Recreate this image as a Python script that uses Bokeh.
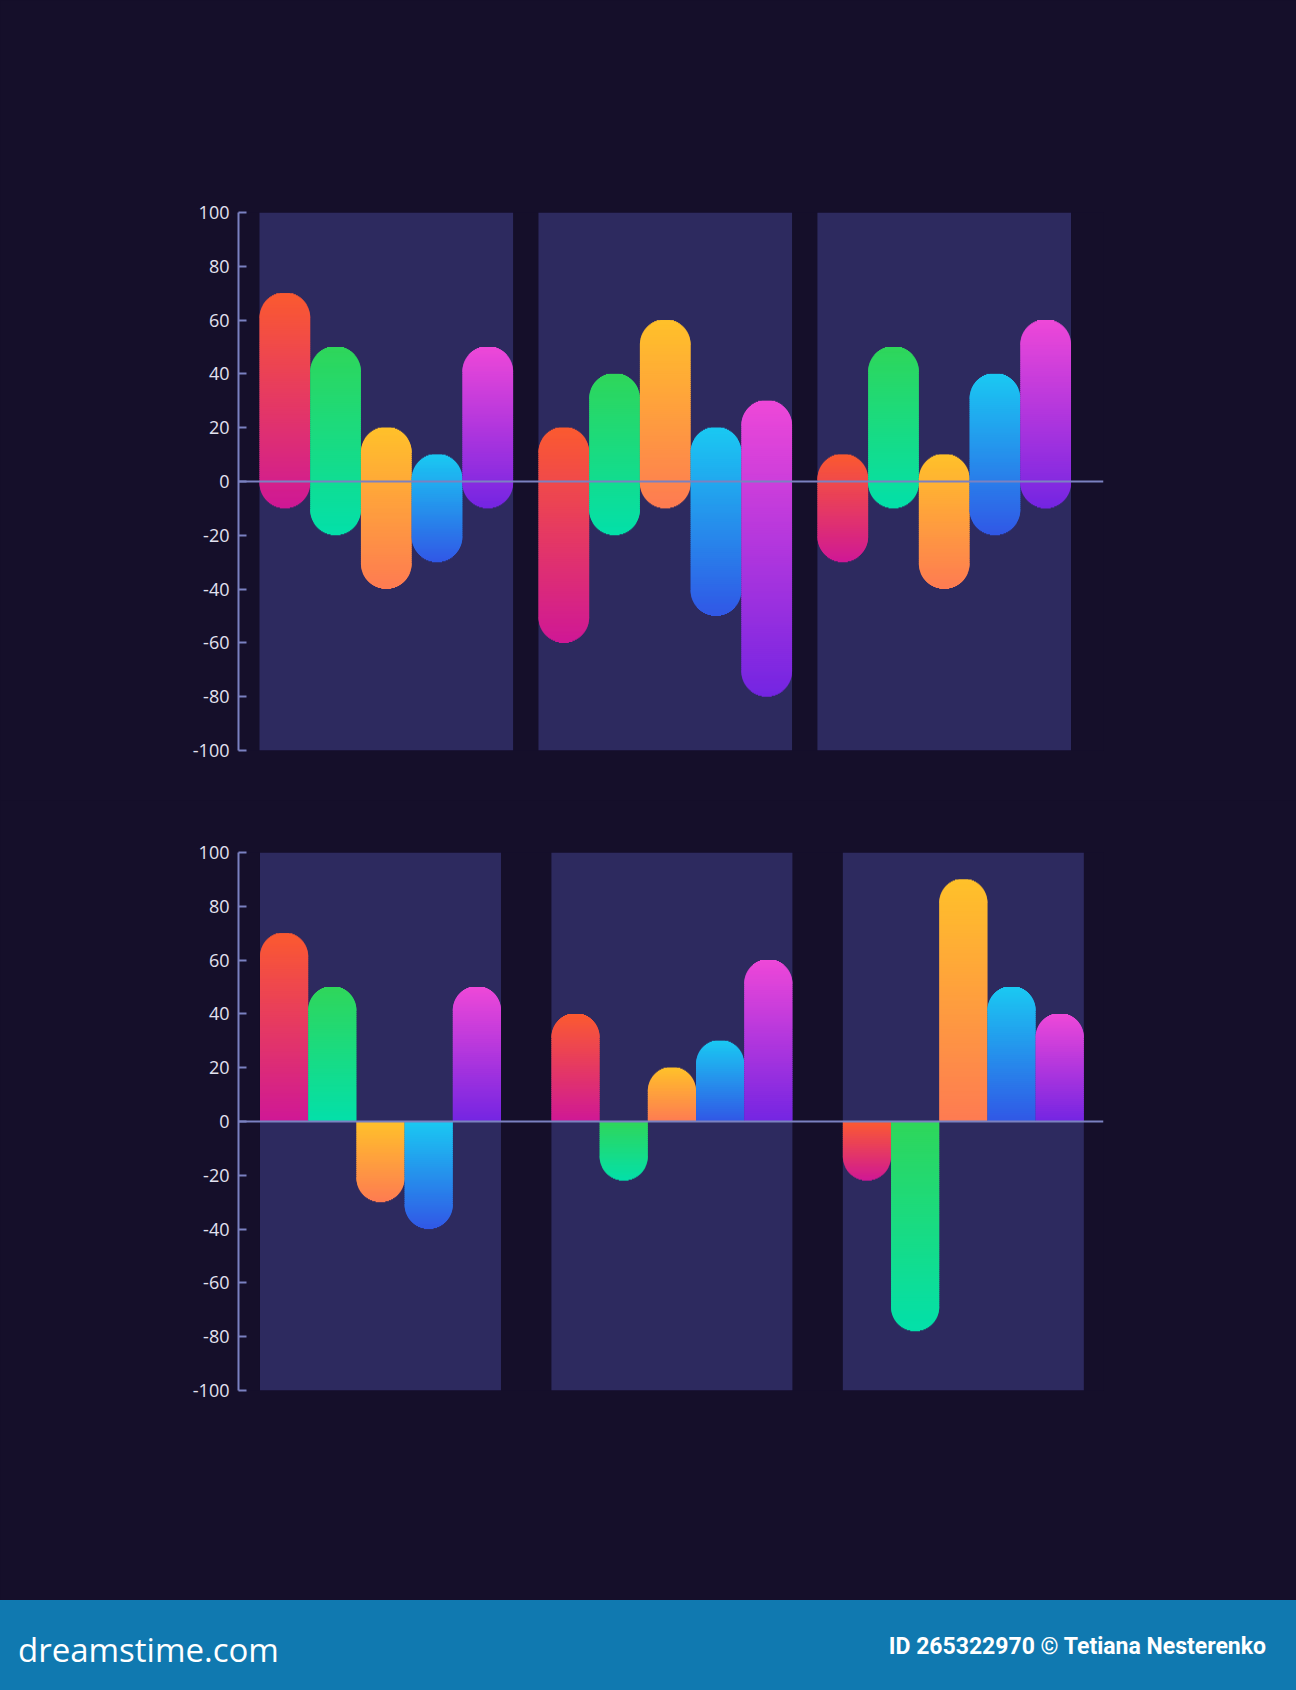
import numpy as np
from bokeh.plotting import figure
from bokeh.layouts import column
from bokeh.models import Range1d, LinearAxis, FixedTicker, Span, ColumnDataSource, Div
from bokeh.embed import file_html
from bokeh.resources import INLINE

# ---------------- data ----------------
panels = ["Group 1", "Group 2", "Group 3"]
series = ["Series 1", "Series 2", "Series 3", "Series 4", "Series 5"]

# top chart: floating capsules (low .. high) per panel, per series
top_high = [[70, 50, 20, 10, 50],
            [20, 40, 60, 20, 30],
            [10, 50, 10, 40, 60]]
top_low = [[-10, -20, -40, -30, -10],
           [-60, -20, -10, -50, -80],
           [-30, -10, -40, -20, -10]]

# bottom chart: bars from zero with a rounded end
bottom_values = [[70, 50, -30, -40, 50],
                 [40, -22, 20, 30, 60],
                 [-22, -78, 90, 50, 40]]

y_ticks = [-100, -80, -60, -40, -20, 0, 20, 40, 60, 80, 100]
y_tick_labels = ["-100", "-80", "-60", "-40", "-20", "0", "20", "40", "60", "80", "100"]

# gradient (top colour, bottom colour) for each series
grad_top = ["#fb5a30", "#2fd65a", "#ffc12a", "#1ac9f2", "#ee48d8"]
grad_bottom = ["#cf1896", "#03e0aa", "#fe7b52", "#3157e6", "#7425e2"]

# ---------------- style ----------------
BG = "#150f2a"
PANEL = "#2d2a5f"
AXIS = "#7b81c1"
LABEL = "#e2e2f0"
BANNER = "#1079b0"
W = 1296
FW, FH = 865, 538
LEFT = 238


def hex2rgb(h):
    h = h.lstrip("#")
    return np.array([int(h[i:i + 2], 16) for i in (0, 2, 4)], dtype=float)


def mix(c1, c2, t):
    a, b = hex2rgb(c1), hex2rgb(c2)
    c = a + (b - a) * t
    return "#%02x%02x%02x" % tuple(int(round(v)) for v in c)


def bar_strips(out, xc, lo, hi, ctop, cbot, round_top, round_bot, ppx, ppy):
    """Approximate a gradient bar with rounded ends by thin horizontal quads."""
    r_px = 0.5 * ppx  # bar width is one x unit
    r = r_px / ppy
    top_start = hi - r if round_top else hi
    bot_end = lo + r if round_bot else lo
    edges = []
    if round_bot:
        edges += list(np.linspace(lo, bot_end, int(r * ppy) + 1))[:-1]
    nb = max(2, int((top_start - bot_end) * ppy / 2) + 1)
    edges += list(np.linspace(bot_end, top_start, nb))[:-1]
    if round_top:
        edges += list(np.linspace(top_start, hi, int(r * ppy) + 1))
    else:
        edges.append(hi)
    ov = 1.0 / ppy
    for a, b in zip(edges[:-1], edges[1:]):
        m = 0.5 * (a + b)
        if round_bot and m < bot_end:
            d = (bot_end - m) * ppy
        elif round_top and m > top_start:
            d = (m - top_start) * ppy
        else:
            d = 0.0
        hw = np.sqrt(max(r_px ** 2 - d ** 2, 0.0)) / ppx
        t = (hi - m) / (hi - lo)
        out["left"].append(xc - hw)
        out["right"].append(xc + hw)
        out["bottom"].append(a)
        out["top"].append(min(b + ov, hi))
        out["color"].append(mix(ctop, cbot, t))


def make_chart(height, b_top, b_bottom, x_start, x_end):
    p = figure(width=W, height=height,
               x_range=Range1d(x_start, x_end), y_range=Range1d(-100, 100),
               x_axis_location=None, y_axis_location=None,
               toolbar_location=None, output_backend="svg",
               min_border_left=LEFT, min_border_right=W - LEFT - FW,
               min_border_top=b_top, min_border_bottom=b_bottom,
               background_fill_color=BG, border_fill_color=BG,
               outline_line_color=None,
               styles={"background-color": BG})
    p.grid.visible = False
    ax = LinearAxis(ticker=FixedTicker(ticks=y_ticks))
    ax.major_label_overrides = dict(zip(y_ticks, y_tick_labels))
    ax.axis_line_color = AXIS
    ax.axis_line_width = 2
    ax.major_tick_line_color = AXIS
    ax.major_tick_line_width = 2
    ax.major_tick_in = 8
    ax.major_tick_out = 0
    ax.minor_tick_line_color = None
    ax.major_label_text_color = LABEL
    ax.major_label_text_font = "Open Sans"
    ax.major_label_text_font_size = "18px"
    ax.major_label_standoff = 9
    p.add_layout(ax, "left")
    return p


def add_panels(p, gap):
    pan = dict(left=[], right=[])
    for k in range(len(panels)):
        s = k * (len(series) + gap)
        pan["left"].append(s)
        pan["right"].append(s + len(series))
    p.quad(left="left", right="right", top=100, bottom=-100,
           source=ColumnDataSource(pan), fill_color=PANEL, line_color=None)


ppy = FH / 200.0

# ---------------- top chart ----------------
top_gap, top_axis_gap = 0.5, 0.414
top_units = FW / 50.72
pA = make_chart(800, 212, 50, -top_axis_gap, -top_axis_gap + top_units)
ppx_a = FW / top_units
add_panels(pA, top_gap)

strips = dict(left=[], right=[], top=[], bottom=[], color=[])
for k in range(len(panels)):
    for i in range(len(series)):
        xc = k * (len(series) + top_gap) + i + 0.5
        bar_strips(strips, xc, top_low[k][i], top_high[k][i],
                   grad_top[i], grad_bottom[i], True, True, ppx_a, ppy)
pA.quad(left="left", right="right", top="top", bottom="bottom",
        source=ColumnDataSource(strips), fill_color="color", line_color=None)
pA.add_layout(Span(location=0, dimension="width", line_color=AXIS, line_width=2))

# ---------------- bottom chart ----------------
bot_gap, bot_axis_gap = 1.046, 0.446
bot_units = FW / 48.2
pB = make_chart(800, 52, 210, -bot_axis_gap, -bot_axis_gap + bot_units)
ppx_b = FW / bot_units
add_panels(pB, bot_gap)

strips = dict(left=[], right=[], top=[], bottom=[], color=[])
for k in range(len(panels)):
    for i in range(len(series)):
        xc = k * (len(series) + bot_gap) + i + 0.5
        v = bottom_values[k][i]
        if v >= 0:
            bar_strips(strips, xc, 0, v, grad_top[i], grad_bottom[i],
                       True, False, ppx_b, ppy)
        else:
            bar_strips(strips, xc, v, 0, grad_top[i], grad_bottom[i],
                       False, True, ppx_b, ppy)
pB.quad(left="left", right="right", top="top", bottom="bottom",
        source=ColumnDataSource(strips), fill_color="color", line_color=None)
pB.add_layout(Span(location=0, dimension="width", line_color=AXIS, line_width=2))

# ---------------- credit banner ----------------
banner_html = (
    '<div style="position:relative;width:1296px;height:90px;background:%s;margin:0;">'
    '<span style="position:absolute;left:18px;top:33px;font-family:\'Open Sans\';'
    'font-size:33px;line-height:1;color:#ffffff;white-space:nowrap;">dreamstime.com</span>'
    '<span style="position:absolute;right:30px;top:35px;font-family:Roboto;font-weight:bold;'
    'font-size:23px;line-height:1;color:#ffffff;white-space:nowrap;">'
    'ID 265322970 © Tetiana Nesterenko</span></div>' % BANNER)
pC = Div(text=banner_html, width=W, height=90,
         styles={"background-color": BANNER, "margin": "0", "padding": "0"})

layout = column(pA, pB, pC, spacing=0, styles={"background-color": BG})
open("out.html", "w").write(file_html(layout, INLINE))
